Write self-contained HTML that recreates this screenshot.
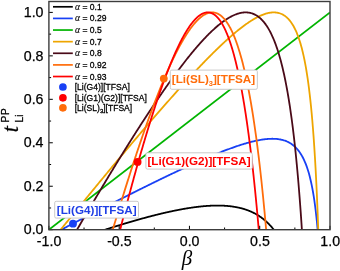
<!DOCTYPE html>
<html><head><meta charset="utf-8"><title>t Li PP vs beta</title>
<style>
html,body{margin:0;padding:0;background:#fff;}
svg{display:block;font-family:"Liberation Sans",Arial,sans-serif;}
.tk{font-size:14.2px;fill:#000;stroke:#000;stroke-width:0.25px;}
.lg{font-size:8.55px;fill:#000;stroke:#000;stroke-width:0.28px;}
.al{font-family:"Liberation Serif","DejaVu Serif",serif;font-style:italic;font-size:9.6px;stroke-width:0.1px;}
.an{font-size:11.7px;font-weight:bold;}
.ax{font-family:"Liberation Serif","DejaVu Serif",serif;font-style:italic;}
</style></head><body>
<svg width="340" height="271" viewBox="0 0 340 271">
<rect width="340" height="271" fill="#fff"/>
<defs><clipPath id="cp"><rect x="48.9" y="1.5" width="281.1" height="228.2"/></clipPath></defs>
<g clip-path="url(#cp)" fill="none" stroke-width="1.8" stroke-linejoin="round">
<path d="M102.31,230.61 L102.74,230.47 L103.17,230.33 L103.60,230.19 L104.03,230.05 L104.46,229.91 L104.90,229.77 L105.33,229.63 L105.76,229.49 L106.19,229.36 L106.62,229.22 L107.05,229.08 L107.48,228.94 L107.91,228.80 L108.35,228.67 L108.78,228.53 L109.21,228.39 L109.64,228.25 L110.07,228.12 L110.50,227.98 L110.93,227.84 L111.36,227.71 L111.79,227.57 L112.23,227.44 L112.66,227.30 L113.09,227.16 L113.52,227.03 L113.95,226.89 L114.38,226.76 L114.81,226.62 L115.24,226.49 L115.67,226.36 L116.11,226.22 L116.54,226.09 L116.97,225.95 L117.40,225.82 L117.83,225.69 L118.26,225.55 L118.69,225.42 L119.12,225.29 L119.56,225.16 L119.99,225.02 L120.42,224.89 L120.85,224.76 L121.28,224.63 L121.71,224.50 L122.14,224.37 L122.57,224.24 L123.00,224.11 L123.44,223.97 L123.87,223.84 L124.30,223.71 L124.73,223.58 L125.16,223.46 L125.59,223.33 L126.02,223.20 L126.45,223.07 L126.89,222.94 L127.32,222.81 L127.75,222.68 L128.18,222.56 L128.61,222.43 L129.04,222.30 L129.47,222.17 L129.90,222.05 L130.33,221.92 L130.77,221.79 L131.20,221.67 L131.63,221.54 L132.06,221.42 L132.49,221.29 L132.92,221.17 L133.35,221.04 L133.78,220.92 L134.21,220.79 L134.65,220.67 L135.08,220.55 L135.51,220.42 L135.94,220.30 L136.37,220.18 L136.80,220.05 L137.23,219.93 L137.66,219.81 L138.10,219.69 L138.53,219.57 L138.96,219.44 L139.39,219.32 L139.82,219.20 L140.25,219.08 L140.68,218.96 L141.11,218.84 L141.54,218.72 L141.98,218.60 L142.41,218.49 L142.84,218.37 L143.27,218.25 L143.70,218.13 L144.13,218.01 L144.56,217.90 L144.99,217.78 L145.43,217.66 L145.86,217.55 L146.29,217.43 L146.72,217.31 L147.15,217.20 L147.58,217.08 L148.01,216.97 L148.44,216.86 L148.87,216.74 L149.31,216.63 L149.74,216.51 L150.17,216.40 L150.60,216.29 L151.03,216.18 L151.46,216.06 L151.89,215.95 L152.32,215.84 L152.75,215.73 L153.19,215.62 L153.62,215.51 L154.05,215.40 L154.48,215.29 L154.91,215.18 L155.34,215.07 L155.77,214.97 L156.20,214.86 L156.64,214.75 L157.07,214.64 L157.50,214.54 L157.93,214.43 L158.36,214.32 L158.79,214.22 L159.22,214.11 L159.65,214.01 L160.08,213.91 L160.52,213.80 L160.95,213.70 L161.38,213.59 L161.81,213.49 L162.24,213.39 L162.67,213.29 L163.10,213.19 L163.53,213.09 L163.97,212.99 L164.40,212.89 L164.83,212.79 L165.26,212.69 L165.69,212.59 L166.12,212.49 L166.55,212.39 L166.98,212.29 L167.41,212.20 L167.85,212.10 L168.28,212.01 L168.71,211.91 L169.14,211.82 L169.57,211.72 L170.00,211.63 L170.43,211.53 L170.86,211.44 L171.29,211.35 L171.73,211.26 L172.16,211.16 L172.59,211.07 L173.02,210.98 L173.45,210.89 L173.88,210.80 L174.31,210.71 L174.74,210.63 L175.18,210.54 L175.61,210.45 L176.04,210.36 L176.47,210.28 L176.90,210.19 L177.33,210.11 L177.76,210.02 L178.19,209.94 L178.62,209.86 L179.06,209.77 L179.49,209.69 L179.92,209.61 L180.35,209.53 L180.78,209.45 L181.21,209.37 L181.64,209.29 L182.07,209.21 L182.50,209.13 L182.94,209.06 L183.37,208.98 L183.80,208.90 L184.23,208.83 L184.66,208.75 L185.09,208.68 L185.52,208.61 L185.95,208.53 L186.39,208.46 L186.82,208.39 L187.25,208.32 L187.68,208.25 L188.11,208.18 L188.54,208.11 L188.97,208.04 L189.40,207.98 L189.83,207.91 L190.27,207.85 L190.70,207.78 L191.13,207.72 L191.56,207.65 L191.99,207.59 L192.42,207.53 L192.85,207.47 L193.28,207.41 L193.72,207.35 L194.15,207.29 L194.58,207.23 L195.01,207.17 L195.44,207.12 L195.87,207.06 L196.30,207.01 L196.73,206.95 L197.16,206.90 L197.60,206.85 L198.03,206.80 L198.46,206.75 L198.89,206.70 L199.32,206.65 L199.75,206.60 L200.18,206.55 L200.61,206.51 L201.04,206.46 L201.48,206.42 L201.91,206.38 L202.34,206.34 L202.77,206.29 L203.20,206.25 L203.63,206.21 L204.06,206.18 L204.49,206.14 L204.93,206.10 L205.36,206.07 L205.79,206.03 L206.22,206.00 L206.65,205.97 L207.08,205.94 L207.51,205.91 L207.94,205.88 L208.37,205.85 L208.81,205.83 L209.24,205.80 L209.67,205.78 L210.10,205.75 L210.53,205.73 L210.96,205.71 L211.39,205.69 L211.82,205.68 L212.26,205.66 L212.69,205.64 L213.12,205.63 L213.55,205.61 L213.98,205.60 L214.41,205.59 L214.84,205.58 L215.27,205.58 L215.70,205.57 L216.14,205.56 L216.57,205.56 L217.00,205.56 L217.43,205.56 L217.86,205.56 L218.29,205.56 L218.72,205.56 L219.15,205.57 L219.58,205.57 L220.02,205.58 L220.45,205.59 L220.88,205.60 L221.31,205.61 L221.74,205.62 L222.17,205.64 L222.60,205.66 L223.03,205.68 L223.47,205.70 L223.90,205.72 L224.33,205.74 L224.76,205.77 L225.19,205.79 L225.62,205.82 L226.05,205.85 L226.48,205.89 L226.91,205.92 L227.35,205.96 L227.78,205.99 L228.21,206.03 L228.64,206.08 L229.07,206.12 L229.50,206.16 L229.93,206.21 L230.36,206.26 L230.79,206.31 L231.23,206.37 L231.66,206.42 L232.09,206.48 L232.52,206.54 L232.95,206.60 L233.38,206.67 L233.81,206.74 L234.24,206.80 L234.68,206.88 L235.11,206.95 L235.54,207.02 L235.97,207.10 L236.40,207.18 L236.83,207.27 L237.26,207.35 L237.69,207.44 L238.12,207.53 L238.56,207.63 L238.99,207.72 L239.42,207.82 L239.85,207.92 L240.28,208.03 L240.71,208.13 L241.14,208.24 L241.57,208.36 L242.01,208.47 L242.44,208.59 L242.87,208.71 L243.30,208.84 L243.73,208.96 L244.16,209.10 L244.59,209.23 L245.02,209.37 L245.45,209.51 L245.89,209.65 L246.32,209.80 L246.75,209.95 L247.18,210.10 L247.61,210.26 L248.04,210.42 L248.47,210.59 L248.90,210.76 L249.33,210.93 L249.77,211.11 L250.20,211.29 L250.63,211.47 L251.06,211.66 L251.49,211.85 L251.92,212.05 L252.35,212.25 L252.78,212.46 L253.22,212.67 L253.65,212.88 L254.08,213.10 L254.51,213.32 L254.94,213.55 L255.37,213.78 L255.80,214.02 L256.23,214.26 L256.66,214.51 L257.10,214.76 L257.53,215.02 L257.96,215.28 L258.39,215.55 L258.82,215.83 L259.25,216.11 L259.68,216.39 L260.11,216.68 L260.55,216.98 L260.98,217.28 L261.41,217.59 L261.84,217.91 L262.27,218.23 L262.70,218.56 L263.13,218.89 L263.56,219.24 L263.99,219.58 L264.43,219.94 L264.86,220.30 L265.29,220.67 L265.72,221.05 L266.15,221.44 L266.58,221.83 L267.01,222.23 L267.44,222.64 L267.87,223.06 L268.31,223.48 L268.74,223.92 L269.17,224.36 L269.60,224.81 L270.03,225.27 L270.46,225.74 L270.89,226.22 L271.32,226.71 L271.76,227.21 L272.19,227.72 L272.62,228.24 L273.05,228.77 L273.48,229.32 L273.91,229.87 L274.34,230.43" stroke="#000000"/>
<path d="M58.45,231.17 L59.10,230.83 L59.75,230.49 L60.40,230.15 L61.05,229.81 L61.70,229.47 L62.35,229.13 L63.00,228.79 L63.65,228.45 L64.30,228.11 L64.96,227.77 L65.61,227.43 L66.26,227.09 L66.91,226.75 L67.56,226.41 L68.21,226.07 L68.86,225.73 L69.51,225.39 L70.16,225.05 L70.81,224.71 L71.47,224.37 L72.12,224.03 L72.77,223.69 L73.42,223.35 L74.07,223.01 L74.72,222.68 L75.37,222.34 L76.02,222.00 L76.67,221.66 L77.33,221.32 L77.98,220.98 L78.63,220.64 L79.28,220.31 L79.93,219.97 L80.58,219.63 L81.23,219.29 L81.88,218.95 L82.53,218.62 L83.18,218.28 L83.84,217.94 L84.49,217.61 L85.14,217.27 L85.79,216.93 L86.44,216.59 L87.09,216.26 L87.74,215.92 L88.39,215.58 L89.04,215.25 L89.69,214.91 L90.35,214.57 L91.00,214.24 L91.65,213.90 L92.30,213.57 L92.95,213.23 L93.60,212.89 L94.25,212.56 L94.90,212.22 L95.55,211.89 L96.21,211.55 L96.86,211.22 L97.51,210.88 L98.16,210.55 L98.81,210.21 L99.46,209.88 L100.11,209.54 L100.76,209.21 L101.41,208.87 L102.06,208.54 L102.72,208.21 L103.37,207.87 L104.02,207.54 L104.67,207.20 L105.32,206.87 L105.97,206.54 L106.62,206.20 L107.27,205.87 L107.92,205.54 L108.57,205.21 L109.23,204.87 L109.88,204.54 L110.53,204.21 L111.18,203.88 L111.83,203.54 L112.48,203.21 L113.13,202.88 L113.78,202.55 L114.43,202.22 L115.08,201.89 L115.74,201.55 L116.39,201.22 L117.04,200.89 L117.69,200.56 L118.34,200.23 L118.99,199.90 L119.64,199.57 L120.29,199.24 L120.94,198.91 L121.60,198.58 L122.25,198.25 L122.90,197.92 L123.55,197.59 L124.20,197.26 L124.85,196.93 L125.50,196.61 L126.15,196.28 L126.80,195.95 L127.45,195.62 L128.11,195.29 L128.76,194.97 L129.41,194.64 L130.06,194.31 L130.71,193.98 L131.36,193.66 L132.01,193.33 L132.66,193.00 L133.31,192.68 L133.96,192.35 L134.62,192.02 L135.27,191.70 L135.92,191.37 L136.57,191.05 L137.22,190.72 L137.87,190.40 L138.52,190.07 L139.17,189.75 L139.82,189.42 L140.47,189.10 L141.13,188.78 L141.78,188.45 L142.43,188.13 L143.08,187.81 L143.73,187.48 L144.38,187.16 L145.03,186.84 L145.68,186.52 L146.33,186.19 L146.99,185.87 L147.64,185.55 L148.29,185.23 L148.94,184.91 L149.59,184.59 L150.24,184.27 L150.89,183.95 L151.54,183.63 L152.19,183.31 L152.84,182.99 L153.50,182.67 L154.15,182.35 L154.80,182.03 L155.45,181.71 L156.10,181.40 L156.75,181.08 L157.40,180.76 L158.05,180.44 L158.70,180.13 L159.35,179.81 L160.01,179.50 L160.66,179.18 L161.31,178.86 L161.96,178.55 L162.61,178.23 L163.26,177.92 L163.91,177.61 L164.56,177.29 L165.21,176.98 L165.87,176.67 L166.52,176.35 L167.17,176.04 L167.82,175.73 L168.47,175.42 L169.12,175.11 L169.77,174.79 L170.42,174.48 L171.07,174.17 L171.72,173.86 L172.38,173.55 L173.03,173.25 L173.68,172.94 L174.33,172.63 L174.98,172.32 L175.63,172.01 L176.28,171.71 L176.93,171.40 L177.58,171.09 L178.23,170.79 L178.89,170.48 L179.54,170.18 L180.19,169.87 L180.84,169.57 L181.49,169.27 L182.14,168.96 L182.79,168.66 L183.44,168.36 L184.09,168.06 L184.74,167.76 L185.40,167.46 L186.05,167.16 L186.70,166.86 L187.35,166.56 L188.00,166.26 L188.65,165.96 L189.30,165.66 L189.95,165.37 L190.60,165.07 L191.26,164.78 L191.91,164.48 L192.56,164.19 L193.21,163.89 L193.86,163.60 L194.51,163.31 L195.16,163.01 L195.81,162.72 L196.46,162.43 L197.11,162.14 L197.77,161.85 L198.42,161.56 L199.07,161.28 L199.72,160.99 L200.37,160.70 L201.02,160.41 L201.67,160.13 L202.32,159.84 L202.97,159.56 L203.62,159.28 L204.28,159.00 L204.93,158.71 L205.58,158.43 L206.23,158.15 L206.88,157.87 L207.53,157.60 L208.18,157.32 L208.83,157.04 L209.48,156.77 L210.14,156.49 L210.79,156.22 L211.44,155.94 L212.09,155.67 L212.74,155.40 L213.39,155.13 L214.04,154.86 L214.69,154.59 L215.34,154.33 L215.99,154.06 L216.65,153.79 L217.30,153.53 L217.95,153.27 L218.60,153.01 L219.25,152.74 L219.90,152.48 L220.55,152.23 L221.20,151.97 L221.85,151.71 L222.50,151.46 L223.16,151.20 L223.81,150.95 L224.46,150.70 L225.11,150.45 L225.76,150.20 L226.41,149.95 L227.06,149.71 L227.71,149.46 L228.36,149.22 L229.01,148.98 L229.67,148.74 L230.32,148.50 L230.97,148.26 L231.62,148.03 L232.27,147.80 L232.92,147.56 L233.57,147.33 L234.22,147.10 L234.87,146.88 L235.53,146.65 L236.18,146.43 L236.83,146.21 L237.48,145.99 L238.13,145.77 L238.78,145.56 L239.43,145.34 L240.08,145.13 L240.73,144.92 L241.38,144.71 L242.04,144.51 L242.69,144.31 L243.34,144.11 L243.99,143.91 L244.64,143.71 L245.29,143.52 L245.94,143.33 L246.59,143.14 L247.24,142.96 L247.89,142.77 L248.55,142.59 L249.20,142.42 L249.85,142.24 L250.50,142.07 L251.15,141.91 L251.80,141.74 L252.45,141.58 L253.10,141.42 L253.75,141.27 L254.41,141.11 L255.06,140.97 L255.71,140.82 L256.36,140.68 L257.01,140.55 L257.66,140.41 L258.31,140.29 L258.96,140.16 L259.61,140.04 L260.26,139.93 L260.92,139.82 L261.57,139.71 L262.22,139.61 L262.87,139.51 L263.52,139.42 L264.17,139.33 L264.82,139.25 L265.47,139.18 L266.12,139.11 L266.77,139.04 L267.43,138.99 L268.08,138.94 L268.73,138.89 L269.38,138.85 L270.03,138.82 L270.68,138.80 L271.33,138.78 L271.98,138.77 L272.63,138.77 L273.28,138.78 L273.94,138.80 L274.59,138.82 L275.24,138.86 L275.89,138.90 L276.54,138.95 L277.19,139.01 L277.84,139.09 L278.49,139.17 L279.14,139.27 L279.80,139.37 L280.45,139.49 L281.10,139.63 L281.75,139.77 L282.40,139.93 L283.05,140.10 L283.70,140.29 L284.35,140.50 L285.00,140.72 L285.65,140.95 L286.31,141.21 L286.96,141.48 L287.61,141.77 L288.26,142.09 L288.91,142.42 L289.56,142.78 L290.21,143.16 L290.86,143.56 L291.51,143.99 L292.16,144.45 L292.82,144.93 L293.47,145.45 L294.12,146.00 L294.77,146.58 L295.42,147.19 L296.07,147.85 L296.72,148.54 L297.37,149.27 L298.02,150.05 L298.67,150.88 L299.33,151.76 L299.98,152.69 L300.63,153.67 L301.28,154.72 L301.93,155.83 L302.58,157.02 L303.23,158.28 L303.88,159.61 L304.53,161.04 L305.19,162.56 L305.84,164.18 L306.49,165.91 L307.14,167.75 L307.79,169.73 L308.44,171.85 L309.09,174.12 L309.74,176.56 L310.39,179.19 L311.04,182.02 L311.70,185.08 L312.35,188.39 L313.00,191.99 L313.65,195.89 L314.30,200.15 L314.95,204.81 L315.60,209.92 L316.25,215.56 L316.90,221.78 L317.55,228.70 L318.21,236.42" stroke="#1840f5"/>
<path d="M48.90,229.70 L330.00,12.40" stroke="#00b400"/>
<path d="M57.82,233.17 L58.48,232.36 L59.13,231.55 L59.79,230.75 L60.44,229.94 L61.09,229.13 L61.75,228.33 L62.40,227.52 L63.06,226.72 L63.71,225.91 L64.36,225.11 L65.02,224.30 L65.67,223.50 L66.33,222.69 L66.98,221.89 L67.64,221.08 L68.29,220.28 L68.94,219.48 L69.60,218.67 L70.25,217.87 L70.91,217.07 L71.56,216.26 L72.21,215.46 L72.87,214.66 L73.52,213.85 L74.18,213.05 L74.83,212.25 L75.48,211.45 L76.14,210.65 L76.79,209.85 L77.45,209.04 L78.10,208.24 L78.76,207.44 L79.41,206.64 L80.06,205.84 L80.72,205.04 L81.37,204.24 L82.03,203.44 L82.68,202.64 L83.33,201.84 L83.99,201.04 L84.64,200.25 L85.30,199.45 L85.95,198.65 L86.61,197.85 L87.26,197.05 L87.91,196.26 L88.57,195.46 L89.22,194.66 L89.88,193.87 L90.53,193.07 L91.18,192.27 L91.84,191.48 L92.49,190.68 L93.15,189.89 L93.80,189.09 L94.46,188.30 L95.11,187.50 L95.76,186.71 L96.42,185.91 L97.07,185.12 L97.73,184.33 L98.38,183.53 L99.03,182.74 L99.69,181.95 L100.34,181.15 L101.00,180.36 L101.65,179.57 L102.30,178.78 L102.96,177.99 L103.61,177.20 L104.27,176.41 L104.92,175.61 L105.58,174.82 L106.23,174.03 L106.88,173.25 L107.54,172.46 L108.19,171.67 L108.85,170.88 L109.50,170.09 L110.15,169.30 L110.81,168.52 L111.46,167.73 L112.12,166.94 L112.77,166.15 L113.43,165.37 L114.08,164.58 L114.73,163.80 L115.39,163.01 L116.04,162.23 L116.70,161.44 L117.35,160.66 L118.00,159.88 L118.66,159.09 L119.31,158.31 L119.97,157.53 L120.62,156.74 L121.28,155.96 L121.93,155.18 L122.58,154.40 L123.24,153.62 L123.89,152.84 L124.55,152.06 L125.20,151.28 L125.85,150.50 L126.51,149.72 L127.16,148.94 L127.82,148.17 L128.47,147.39 L129.13,146.61 L129.78,145.83 L130.43,145.06 L131.09,144.28 L131.74,143.51 L132.40,142.73 L133.05,141.96 L133.70,141.18 L134.36,140.41 L135.01,139.64 L135.67,138.87 L136.32,138.09 L136.97,137.32 L137.63,136.55 L138.28,135.78 L138.94,135.01 L139.59,134.24 L140.25,133.47 L140.90,132.70 L141.55,131.93 L142.21,131.17 L142.86,130.40 L143.52,129.63 L144.17,128.87 L144.82,128.10 L145.48,127.34 L146.13,126.57 L146.79,125.81 L147.44,125.05 L148.10,124.28 L148.75,123.52 L149.40,122.76 L150.06,122.00 L150.71,121.24 L151.37,120.48 L152.02,119.72 L152.67,118.96 L153.33,118.20 L153.98,117.45 L154.64,116.69 L155.29,115.94 L155.95,115.18 L156.60,114.43 L157.25,113.67 L157.91,112.92 L158.56,112.17 L159.22,111.41 L159.87,110.66 L160.52,109.91 L161.18,109.16 L161.83,108.41 L162.49,107.67 L163.14,106.92 L163.79,106.17 L164.45,105.43 L165.10,104.68 L165.76,103.94 L166.41,103.19 L167.07,102.45 L167.72,101.71 L168.37,100.97 L169.03,100.23 L169.68,99.49 L170.34,98.75 L170.99,98.01 L171.64,97.27 L172.30,96.54 L172.95,95.80 L173.61,95.07 L174.26,94.33 L174.92,93.60 L175.57,92.87 L176.22,92.14 L176.88,91.41 L177.53,90.68 L178.19,89.95 L178.84,89.23 L179.49,88.50 L180.15,87.78 L180.80,87.05 L181.46,86.33 L182.11,85.61 L182.77,84.89 L183.42,84.17 L184.07,83.45 L184.73,82.73 L185.38,82.02 L186.04,81.30 L186.69,80.59 L187.34,79.88 L188.00,79.16 L188.65,78.45 L189.31,77.74 L189.96,77.04 L190.62,76.33 L191.27,75.63 L191.92,74.92 L192.58,74.22 L193.23,73.52 L193.89,72.82 L194.54,72.12 L195.19,71.42 L195.85,70.73 L196.50,70.03 L197.16,69.34 L197.81,68.65 L198.46,67.96 L199.12,67.27 L199.77,66.59 L200.43,65.90 L201.08,65.22 L201.74,64.54 L202.39,63.86 L203.04,63.18 L203.70,62.50 L204.35,61.83 L205.01,61.15 L205.66,60.48 L206.31,59.81 L206.97,59.14 L207.62,58.48 L208.28,57.81 L208.93,57.15 L209.59,56.49 L210.24,55.83 L210.89,55.18 L211.55,54.52 L212.20,53.87 L212.86,53.22 L213.51,52.58 L214.16,51.93 L214.82,51.29 L215.47,50.65 L216.13,50.01 L216.78,49.37 L217.44,48.74 L218.09,48.11 L218.74,47.48 L219.40,46.85 L220.05,46.23 L220.71,45.61 L221.36,44.99 L222.01,44.37 L222.67,43.76 L223.32,43.15 L223.98,42.54 L224.63,41.94 L225.29,41.34 L225.94,40.74 L226.59,40.14 L227.25,39.55 L227.90,38.96 L228.56,38.38 L229.21,37.79 L229.86,37.21 L230.52,36.64 L231.17,36.07 L231.83,35.50 L232.48,34.93 L233.13,34.37 L233.79,33.82 L234.44,33.26 L235.10,32.71 L235.75,32.17 L236.41,31.63 L237.06,31.09 L237.71,30.56 L238.37,30.03 L239.02,29.51 L239.68,28.99 L240.33,28.48 L240.98,27.97 L241.64,27.46 L242.29,26.96 L242.95,26.47 L243.60,25.98 L244.26,25.50 L244.91,25.02 L245.56,24.55 L246.22,24.08 L246.87,23.62 L247.53,23.17 L248.18,22.72 L248.83,22.28 L249.49,21.84 L250.14,21.41 L250.80,20.99 L251.45,20.58 L252.11,20.17 L252.76,19.77 L253.41,19.38 L254.07,18.99 L254.72,18.62 L255.38,18.25 L256.03,17.89 L256.68,17.54 L257.34,17.19 L257.99,16.86 L258.65,16.54 L259.30,16.22 L259.95,15.92 L260.61,15.62 L261.26,15.34 L261.92,15.06 L262.57,14.80 L263.23,14.55 L263.88,14.31 L264.53,14.08 L265.19,13.87 L265.84,13.67 L266.50,13.48 L267.15,13.30 L267.80,13.14 L268.46,12.99 L269.11,12.86 L269.77,12.74 L270.42,12.64 L271.08,12.56 L271.73,12.49 L272.38,12.44 L273.04,12.41 L273.69,12.40 L274.35,12.41 L275.00,12.43 L275.65,12.48 L276.31,12.55 L276.96,12.65 L277.62,12.76 L278.27,12.90 L278.93,13.07 L279.58,13.26 L280.23,13.48 L280.89,13.73 L281.54,14.00 L282.20,14.31 L282.85,14.65 L283.50,15.02 L284.16,15.43 L284.81,15.87 L285.47,16.35 L286.12,16.87 L286.78,17.43 L287.43,18.04 L288.08,18.69 L288.74,19.39 L289.39,20.13 L290.05,20.93 L290.70,21.79 L291.35,22.70 L292.01,23.67 L292.66,24.70 L293.32,25.81 L293.97,26.98 L294.62,28.23 L295.28,29.55 L295.93,30.96 L296.59,32.46 L297.24,34.05 L297.90,35.74 L298.55,37.53 L299.20,39.44 L299.86,41.47 L300.51,43.62 L301.17,45.91 L301.82,48.35 L302.47,50.94 L303.13,53.70 L303.78,56.64 L304.44,59.77 L305.09,63.11 L305.75,66.68 L306.40,70.49 L307.05,74.56 L307.71,78.93 L308.36,83.61 L309.02,88.63 L309.67,94.03 L310.32,99.85 L310.98,106.13 L311.63,112.91 L312.29,120.25 L312.94,128.23 L313.60,136.90 L314.25,146.37 L314.90,156.73 L315.56,168.10 L316.21,180.64 L316.87,194.50 L317.52,209.91 L318.17,227.12 L318.83,246.44" stroke="#eea500"/>
<path d="M74.20,234.54 L74.77,233.55 L75.34,232.57 L75.92,231.58 L76.49,230.60 L77.06,229.62 L77.63,228.63 L78.20,227.65 L78.78,226.67 L79.35,225.69 L79.92,224.71 L80.49,223.73 L81.06,222.75 L81.64,221.77 L82.21,220.79 L82.78,219.82 L83.35,218.84 L83.92,217.86 L84.50,216.89 L85.07,215.91 L85.64,214.94 L86.21,213.97 L86.78,212.99 L87.36,212.02 L87.93,211.05 L88.50,210.08 L89.07,209.11 L89.64,208.14 L90.22,207.17 L90.79,206.20 L91.36,205.23 L91.93,204.27 L92.51,203.30 L93.08,202.33 L93.65,201.37 L94.22,200.40 L94.79,199.44 L95.37,198.48 L95.94,197.51 L96.51,196.55 L97.08,195.59 L97.65,194.63 L98.23,193.67 L98.80,192.71 L99.37,191.75 L99.94,190.80 L100.51,189.84 L101.09,188.88 L101.66,187.93 L102.23,186.98 L102.80,186.02 L103.37,185.07 L103.95,184.12 L104.52,183.17 L105.09,182.21 L105.66,181.27 L106.23,180.32 L106.81,179.37 L107.38,178.42 L107.95,177.47 L108.52,176.53 L109.09,175.58 L109.67,174.64 L110.24,173.70 L110.81,172.75 L111.38,171.81 L111.96,170.87 L112.53,169.93 L113.10,168.99 L113.67,168.06 L114.24,167.12 L114.82,166.18 L115.39,165.25 L115.96,164.31 L116.53,163.38 L117.10,162.45 L117.68,161.51 L118.25,160.58 L118.82,159.65 L119.39,158.73 L119.96,157.80 L120.54,156.87 L121.11,155.94 L121.68,155.02 L122.25,154.10 L122.82,153.17 L123.40,152.25 L123.97,151.33 L124.54,150.41 L125.11,149.49 L125.68,148.57 L126.26,147.66 L126.83,146.74 L127.40,145.83 L127.97,144.91 L128.55,144.00 L129.12,143.09 L129.69,142.18 L130.26,141.27 L130.83,140.36 L131.41,139.46 L131.98,138.55 L132.55,137.65 L133.12,136.74 L133.69,135.84 L134.27,134.94 L134.84,134.04 L135.41,133.14 L135.98,132.24 L136.55,131.35 L137.13,130.45 L137.70,129.56 L138.27,128.67 L138.84,127.78 L139.41,126.89 L139.99,126.00 L140.56,125.11 L141.13,124.22 L141.70,123.34 L142.27,122.46 L142.85,121.58 L143.42,120.70 L143.99,119.82 L144.56,118.94 L145.13,118.06 L145.71,117.19 L146.28,116.31 L146.85,115.44 L147.42,114.57 L148.00,113.70 L148.57,112.84 L149.14,111.97 L149.71,111.10 L150.28,110.24 L150.86,109.38 L151.43,108.52 L152.00,107.66 L152.57,106.81 L153.14,105.95 L153.72,105.10 L154.29,104.25 L154.86,103.40 L155.43,102.55 L156.00,101.70 L156.58,100.86 L157.15,100.01 L157.72,99.17 L158.29,98.33 L158.86,97.49 L159.44,96.66 L160.01,95.82 L160.58,94.99 L161.15,94.16 L161.72,93.33 L162.30,92.50 L162.87,91.68 L163.44,90.86 L164.01,90.03 L164.58,89.21 L165.16,88.40 L165.73,87.58 L166.30,86.77 L166.87,85.96 L167.45,85.15 L168.02,84.34 L168.59,83.54 L169.16,82.73 L169.73,81.93 L170.31,81.14 L170.88,80.34 L171.45,79.55 L172.02,78.75 L172.59,77.96 L173.17,77.18 L173.74,76.39 L174.31,75.61 L174.88,74.83 L175.45,74.05 L176.03,73.28 L176.60,72.50 L177.17,71.73 L177.74,70.97 L178.31,70.20 L178.89,69.44 L179.46,68.68 L180.03,67.92 L180.60,67.17 L181.17,66.42 L181.75,65.67 L182.32,64.92 L182.89,64.18 L183.46,63.44 L184.04,62.70 L184.61,61.96 L185.18,61.23 L185.75,60.50 L186.32,59.77 L186.90,59.05 L187.47,58.33 L188.04,57.61 L188.61,56.90 L189.18,56.19 L189.76,55.48 L190.33,54.78 L190.90,54.08 L191.47,53.38 L192.04,52.69 L192.62,51.99 L193.19,51.31 L193.76,50.62 L194.33,49.94 L194.90,49.27 L195.48,48.59 L196.05,47.92 L196.62,47.26 L197.19,46.60 L197.76,45.94 L198.34,45.29 L198.91,44.64 L199.48,43.99 L200.05,43.35 L200.62,42.71 L201.20,42.08 L201.77,41.45 L202.34,40.82 L202.91,40.20 L203.49,39.58 L204.06,38.97 L204.63,38.36 L205.20,37.76 L205.77,37.16 L206.35,36.57 L206.92,35.98 L207.49,35.40 L208.06,34.82 L208.63,34.24 L209.21,33.67 L209.78,33.11 L210.35,32.55 L210.92,32.00 L211.49,31.45 L212.07,30.90 L212.64,30.37 L213.21,29.84 L213.78,29.31 L214.35,28.79 L214.93,28.27 L215.50,27.76 L216.07,27.26 L216.64,26.76 L217.21,26.27 L217.79,25.79 L218.36,25.31 L218.93,24.84 L219.50,24.38 L220.08,23.92 L220.65,23.47 L221.22,23.02 L221.79,22.58 L222.36,22.15 L222.94,21.73 L223.51,21.31 L224.08,20.91 L224.65,20.50 L225.22,20.11 L225.80,19.73 L226.37,19.35 L226.94,18.98 L227.51,18.62 L228.08,18.26 L228.66,17.92 L229.23,17.58 L229.80,17.26 L230.37,16.94 L230.94,16.63 L231.52,16.33 L232.09,16.04 L232.66,15.76 L233.23,15.49 L233.80,15.23 L234.38,14.98 L234.95,14.74 L235.52,14.51 L236.09,14.29 L236.66,14.08 L237.24,13.88 L237.81,13.70 L238.38,13.52 L238.95,13.36 L239.53,13.21 L240.10,13.07 L240.67,12.94 L241.24,12.83 L241.81,12.73 L242.39,12.64 L242.96,12.56 L243.53,12.50 L244.10,12.46 L244.67,12.42 L245.25,12.40 L245.82,12.40 L246.39,12.41 L246.96,12.44 L247.53,12.48 L248.11,12.54 L248.68,12.62 L249.25,12.71 L249.82,12.82 L250.39,12.94 L250.97,13.09 L251.54,13.25 L252.11,13.43 L252.68,13.63 L253.25,13.85 L253.83,14.09 L254.40,14.35 L254.97,14.63 L255.54,14.93 L256.12,15.25 L256.69,15.60 L257.26,15.97 L257.83,16.36 L258.40,16.78 L258.98,17.22 L259.55,17.68 L260.12,18.17 L260.69,18.69 L261.26,19.24 L261.84,19.81 L262.41,20.41 L262.98,21.04 L263.55,21.70 L264.12,22.39 L264.70,23.11 L265.27,23.87 L265.84,24.65 L266.41,25.48 L266.98,26.33 L267.56,27.23 L268.13,28.15 L268.70,29.12 L269.27,30.13 L269.84,31.18 L270.42,32.26 L270.99,33.39 L271.56,34.57 L272.13,35.79 L272.70,37.05 L273.28,38.37 L273.85,39.73 L274.42,41.14 L274.99,42.61 L275.57,44.13 L276.14,45.71 L276.71,47.34 L277.28,49.03 L277.85,50.79 L278.43,52.60 L279.00,54.49 L279.57,56.44 L280.14,58.46 L280.71,60.55 L281.29,62.72 L281.86,64.97 L282.43,67.30 L283.00,69.71 L283.57,72.21 L284.15,74.79 L284.72,77.48 L285.29,80.25 L285.86,83.13 L286.43,86.12 L287.01,89.21 L287.58,92.41 L288.15,95.74 L288.72,99.18 L289.29,102.76 L289.87,106.46 L290.44,110.31 L291.01,114.30 L291.58,118.44 L292.16,122.75 L292.73,127.21 L293.30,131.86 L293.87,136.68 L294.44,141.70 L295.02,146.91 L295.59,152.34 L296.16,157.98 L296.73,163.86 L297.30,169.98 L297.88,176.36 L298.45,183.01 L299.02,189.95 L299.59,197.19 L300.16,204.75 L300.74,212.65 L301.31,220.91 L301.88,229.55 L302.45,238.59" stroke="#4a0a18"/>
<path d="M109.95,239.22 L110.34,237.88 L110.73,236.55 L111.12,235.22 L111.52,233.89 L111.91,232.56 L112.30,231.23 L112.70,229.90 L113.09,228.58 L113.48,227.26 L113.87,225.94 L114.27,224.62 L114.66,223.31 L115.05,222.00 L115.45,220.69 L115.84,219.38 L116.23,218.07 L116.62,216.77 L117.02,215.46 L117.41,214.16 L117.80,212.86 L118.20,211.57 L118.59,210.27 L118.98,208.98 L119.37,207.69 L119.77,206.41 L120.16,205.12 L120.55,203.84 L120.95,202.56 L121.34,201.28 L121.73,200.00 L122.12,198.73 L122.52,197.46 L122.91,196.19 L123.30,194.92 L123.70,193.65 L124.09,192.39 L124.48,191.13 L124.87,189.87 L125.27,188.62 L125.66,187.37 L126.05,186.11 L126.45,184.87 L126.84,183.62 L127.23,182.38 L127.62,181.14 L128.02,179.90 L128.41,178.66 L128.80,177.43 L129.20,176.20 L129.59,174.97 L129.98,173.74 L130.38,172.52 L130.77,171.30 L131.16,170.08 L131.55,168.86 L131.95,167.65 L132.34,166.44 L132.73,165.23 L133.13,164.03 L133.52,162.83 L133.91,161.63 L134.30,160.43 L134.70,159.23 L135.09,158.04 L135.48,156.85 L135.88,155.67 L136.27,154.48 L136.66,153.30 L137.05,152.13 L137.45,150.95 L137.84,149.78 L138.23,148.61 L138.63,147.44 L139.02,146.28 L139.41,145.12 L139.80,143.96 L140.20,142.81 L140.59,141.66 L140.98,140.51 L141.38,139.36 L141.77,138.22 L142.16,137.08 L142.55,135.95 L142.95,134.81 L143.34,133.68 L143.73,132.56 L144.13,131.43 L144.52,130.31 L144.91,129.20 L145.30,128.08 L145.70,126.97 L146.09,125.86 L146.48,124.76 L146.88,123.66 L147.27,122.56 L147.66,121.47 L148.05,120.38 L148.45,119.29 L148.84,118.21 L149.23,117.12 L149.63,116.05 L150.02,114.97 L150.41,113.90 L150.81,112.84 L151.20,111.77 L151.59,110.71 L151.98,109.66 L152.38,108.61 L152.77,107.56 L153.16,106.51 L153.56,105.47 L153.95,104.43 L154.34,103.40 L154.73,102.37 L155.13,101.34 L155.52,100.32 L155.91,99.30 L156.31,98.29 L156.70,97.28 L157.09,96.27 L157.48,95.27 L157.88,94.27 L158.27,93.27 L158.66,92.28 L159.06,91.30 L159.45,90.31 L159.84,89.33 L160.23,88.36 L160.63,87.39 L161.02,86.42 L161.41,85.46 L161.81,84.50 L162.20,83.55 L162.59,82.60 L162.98,81.66 L163.38,80.72 L163.77,79.78 L164.16,78.85 L164.56,77.92 L164.95,77.00 L165.34,76.08 L165.73,75.17 L166.13,74.26 L166.52,73.36 L166.91,72.46 L167.31,71.56 L167.70,70.67 L168.09,69.79 L168.48,68.91 L168.88,68.03 L169.27,67.16 L169.66,66.30 L170.06,65.44 L170.45,64.58 L170.84,63.73 L171.24,62.88 L171.63,62.04 L172.02,61.21 L172.41,60.38 L172.81,59.55 L173.20,58.73 L173.59,57.92 L173.99,57.11 L174.38,56.31 L174.77,55.51 L175.16,54.72 L175.56,53.93 L175.95,53.15 L176.34,52.37 L176.74,51.60 L177.13,50.84 L177.52,50.08 L177.91,49.32 L178.31,48.58 L178.70,47.83 L179.09,47.10 L179.49,46.37 L179.88,45.65 L180.27,44.93 L180.66,44.22 L181.06,43.51 L181.45,42.81 L181.84,42.12 L182.24,41.43 L182.63,40.75 L183.02,40.08 L183.41,39.41 L183.81,38.75 L184.20,38.09 L184.59,37.45 L184.99,36.80 L185.38,36.17 L185.77,35.54 L186.16,34.92 L186.56,34.31 L186.95,33.70 L187.34,33.10 L187.74,32.51 L188.13,31.92 L188.52,31.34 L188.91,30.77 L189.31,30.20 L189.70,29.65 L190.09,29.10 L190.49,28.55 L190.88,28.02 L191.27,27.49 L191.67,26.97 L192.06,26.46 L192.45,25.96 L192.84,25.46 L193.24,24.97 L193.63,24.49 L194.02,24.02 L194.42,23.56 L194.81,23.10 L195.20,22.65 L195.59,22.21 L195.99,21.78 L196.38,21.36 L196.77,20.95 L197.17,20.54 L197.56,20.14 L197.95,19.76 L198.34,19.38 L198.74,19.01 L199.13,18.65 L199.52,18.30 L199.92,17.95 L200.31,17.62 L200.70,17.30 L201.09,16.98 L201.49,16.68 L201.88,16.38 L202.27,16.10 L202.67,15.82 L203.06,15.55 L203.45,15.30 L203.84,15.05 L204.24,14.82 L204.63,14.59 L205.02,14.38 L205.42,14.17 L205.81,13.98 L206.20,13.80 L206.59,13.62 L206.99,13.46 L207.38,13.31 L207.77,13.17 L208.17,13.04 L208.56,12.93 L208.95,12.82 L209.34,12.73 L209.74,12.64 L210.13,12.57 L210.52,12.51 L210.92,12.47 L211.31,12.43 L211.70,12.41 L212.10,12.40 L212.49,12.40 L212.88,12.42 L213.27,12.45 L213.67,12.49 L214.06,12.54 L214.45,12.61 L214.85,12.69 L215.24,12.78 L215.63,12.89 L216.02,13.01 L216.42,13.14 L216.81,13.29 L217.20,13.45 L217.60,13.63 L217.99,13.82 L218.38,14.02 L218.77,14.24 L219.17,14.48 L219.56,14.73 L219.95,14.99 L220.35,15.27 L220.74,15.57 L221.13,15.88 L221.52,16.21 L221.92,16.55 L222.31,16.91 L222.70,17.29 L223.10,17.68 L223.49,18.09 L223.88,18.52 L224.27,18.96 L224.67,19.42 L225.06,19.90 L225.45,20.39 L225.85,20.91 L226.24,21.44 L226.63,21.99 L227.02,22.56 L227.42,23.15 L227.81,23.75 L228.20,24.38 L228.60,25.02 L228.99,25.69 L229.38,26.37 L229.77,27.07 L230.17,27.80 L230.56,28.54 L230.95,29.31 L231.35,30.10 L231.74,30.90 L232.13,31.73 L232.53,32.59 L232.92,33.46 L233.31,34.36 L233.70,35.27 L234.10,36.21 L234.49,37.18 L234.88,38.17 L235.28,39.18 L235.67,40.22 L236.06,41.28 L236.45,42.36 L236.85,43.47 L237.24,44.60 L237.63,45.77 L238.03,46.95 L238.42,48.16 L238.81,49.40 L239.20,50.67 L239.60,51.96 L239.99,53.29 L240.38,54.64 L240.78,56.01 L241.17,57.42 L241.56,58.86 L241.95,60.32 L242.35,61.82 L242.74,63.34 L243.13,64.90 L243.53,66.48 L243.92,68.10 L244.31,69.76 L244.70,71.44 L245.10,73.16 L245.49,74.91 L245.88,76.69 L246.28,78.51 L246.67,80.36 L247.06,82.25 L247.45,84.17 L247.85,86.13 L248.24,88.13 L248.63,90.16 L249.03,92.24 L249.42,94.35 L249.81,96.50 L250.20,98.69 L250.60,100.92 L250.99,103.19 L251.38,105.50 L251.78,107.86 L252.17,110.25 L252.56,112.69 L252.96,115.18 L253.35,117.71 L253.74,120.28 L254.13,122.90 L254.53,125.57 L254.92,128.28 L255.31,131.05 L255.71,133.86 L256.10,136.72 L256.49,139.63 L256.88,142.60 L257.28,145.61 L257.67,148.68 L258.06,151.81 L258.46,154.99 L258.85,158.22 L259.24,161.51 L259.63,164.86 L260.03,168.27 L260.42,171.73 L260.81,175.26 L261.21,178.85 L261.60,182.50 L261.99,186.22 L262.38,190.00 L262.78,193.85 L263.17,197.76 L263.56,201.74 L263.96,205.80 L264.35,209.92 L264.74,214.12 L265.13,218.39 L265.53,222.73 L265.92,227.15 L266.31,231.65 L266.71,236.23" stroke="#ff6c0a"/>
<path d="M117.34,240.81 L117.70,239.40 L118.05,237.99 L118.41,236.58 L118.76,235.17 L119.12,233.76 L119.48,232.36 L119.83,230.96 L120.19,229.56 L120.54,228.16 L120.90,226.77 L121.25,225.38 L121.61,223.99 L121.97,222.61 L122.32,221.22 L122.68,219.84 L123.03,218.46 L123.39,217.09 L123.75,215.71 L124.10,214.34 L124.46,212.97 L124.81,211.61 L125.17,210.24 L125.52,208.88 L125.88,207.53 L126.24,206.17 L126.59,204.82 L126.95,203.47 L127.30,202.12 L127.66,200.78 L128.02,199.44 L128.37,198.10 L128.73,196.76 L129.08,195.43 L129.44,194.10 L129.79,192.77 L130.15,191.44 L130.51,190.12 L130.86,188.80 L131.22,187.48 L131.57,186.17 L131.93,184.86 L132.28,183.55 L132.64,182.25 L133.00,180.94 L133.35,179.65 L133.71,178.35 L134.06,177.06 L134.42,175.77 L134.78,174.48 L135.13,173.19 L135.49,171.91 L135.84,170.63 L136.20,169.36 L136.55,168.09 L136.91,166.82 L137.27,165.55 L137.62,164.29 L137.98,163.03 L138.33,161.77 L138.69,160.52 L139.05,159.27 L139.40,158.03 L139.76,156.78 L140.11,155.54 L140.47,154.30 L140.82,153.07 L141.18,151.84 L141.54,150.61 L141.89,149.39 L142.25,148.17 L142.60,146.95 L142.96,145.74 L143.32,144.53 L143.67,143.32 L144.03,142.12 L144.38,140.92 L144.74,139.73 L145.09,138.53 L145.45,137.35 L145.81,136.16 L146.16,134.98 L146.52,133.80 L146.87,132.63 L147.23,131.46 L147.58,130.29 L147.94,129.13 L148.30,127.97 L148.65,126.81 L149.01,125.66 L149.36,124.51 L149.72,123.37 L150.08,122.23 L150.43,121.09 L150.79,119.96 L151.14,118.83 L151.50,117.70 L151.85,116.58 L152.21,115.46 L152.57,114.35 L152.92,113.24 L153.28,112.14 L153.63,111.04 L153.99,109.94 L154.35,108.85 L154.70,107.76 L155.06,106.67 L155.41,105.59 L155.77,104.52 L156.12,103.45 L156.48,102.38 L156.84,101.32 L157.19,100.26 L157.55,99.20 L157.90,98.15 L158.26,97.11 L158.62,96.07 L158.97,95.03 L159.33,94.00 L159.68,92.97 L160.04,91.95 L160.39,90.93 L160.75,89.92 L161.11,88.91 L161.46,87.90 L161.82,86.90 L162.17,85.91 L162.53,84.92 L162.88,83.93 L163.24,82.95 L163.60,81.98 L163.95,81.01 L164.31,80.04 L164.66,79.08 L165.02,78.12 L165.38,77.17 L165.73,76.23 L166.09,75.28 L166.44,74.35 L166.80,73.42 L167.15,72.49 L167.51,71.57 L167.87,70.66 L168.22,69.75 L168.58,68.84 L168.93,67.94 L169.29,67.05 L169.65,66.16 L170.00,65.28 L170.36,64.40 L170.71,63.53 L171.07,62.66 L171.42,61.80 L171.78,60.95 L172.14,60.10 L172.49,59.26 L172.85,58.42 L173.20,57.59 L173.56,56.76 L173.92,55.94 L174.27,55.13 L174.63,54.32 L174.98,53.52 L175.34,52.72 L175.69,51.93 L176.05,51.14 L176.41,50.37 L176.76,49.60 L177.12,48.83 L177.47,48.07 L177.83,47.32 L178.18,46.57 L178.54,45.83 L178.90,45.10 L179.25,44.37 L179.61,43.65 L179.96,42.94 L180.32,42.23 L180.68,41.53 L181.03,40.84 L181.39,40.15 L181.74,39.47 L182.10,38.80 L182.45,38.13 L182.81,37.47 L183.17,36.82 L183.52,36.17 L183.88,35.54 L184.23,34.91 L184.59,34.28 L184.95,33.67 L185.30,33.06 L185.66,32.46 L186.01,31.86 L186.37,31.28 L186.72,30.70 L187.08,30.13 L187.44,29.56 L187.79,29.01 L188.15,28.46 L188.50,27.92 L188.86,27.39 L189.22,26.87 L189.57,26.35 L189.93,25.84 L190.28,25.34 L190.64,24.85 L190.99,24.37 L191.35,23.90 L191.71,23.43 L192.06,22.97 L192.42,22.52 L192.77,22.08 L193.13,21.65 L193.48,21.23 L193.84,20.81 L194.20,20.41 L194.55,20.01 L194.91,19.63 L195.26,19.25 L195.62,18.88 L195.98,18.52 L196.33,18.17 L196.69,17.83 L197.04,17.50 L197.40,17.18 L197.75,16.87 L198.11,16.56 L198.47,16.27 L198.82,15.99 L199.18,15.72 L199.53,15.46 L199.89,15.20 L200.25,14.96 L200.60,14.73 L200.96,14.51 L201.31,14.30 L201.67,14.10 L202.02,13.91 L202.38,13.73 L202.74,13.56 L203.09,13.40 L203.45,13.26 L203.80,13.12 L204.16,13.00 L204.52,12.89 L204.87,12.79 L205.23,12.70 L205.58,12.62 L205.94,12.55 L206.29,12.50 L206.65,12.46 L207.01,12.42 L207.36,12.41 L207.72,12.40 L208.07,12.41 L208.43,12.42 L208.78,12.46 L209.14,12.50 L209.50,12.56 L209.85,12.62 L210.21,12.71 L210.56,12.80 L210.92,12.91 L211.28,13.03 L211.63,13.17 L211.99,13.32 L212.34,13.48 L212.70,13.66 L213.05,13.85 L213.41,14.05 L213.77,14.27 L214.12,14.50 L214.48,14.75 L214.83,15.01 L215.19,15.29 L215.55,15.58 L215.90,15.89 L216.26,16.21 L216.61,16.55 L216.97,16.90 L217.32,17.27 L217.68,17.65 L218.04,18.05 L218.39,18.47 L218.75,18.90 L219.10,19.35 L219.46,19.81 L219.82,20.29 L220.17,20.79 L220.53,21.31 L220.88,21.84 L221.24,22.39 L221.59,22.96 L221.95,23.54 L222.31,24.14 L222.66,24.77 L223.02,25.40 L223.37,26.06 L223.73,26.74 L224.08,27.43 L224.44,28.15 L224.80,28.88 L225.15,29.63 L225.51,30.40 L225.86,31.20 L226.22,32.01 L226.58,32.84 L226.93,33.69 L227.29,34.56 L227.64,35.46 L228.00,36.37 L228.35,37.31 L228.71,38.26 L229.07,39.24 L229.42,40.24 L229.78,41.26 L230.13,42.31 L230.49,43.38 L230.85,44.47 L231.20,45.58 L231.56,46.72 L231.91,47.88 L232.27,49.06 L232.62,50.27 L232.98,51.50 L233.34,52.76 L233.69,54.04 L234.05,55.35 L234.40,56.68 L234.76,58.04 L235.12,59.43 L235.47,60.84 L235.83,62.28 L236.18,63.74 L236.54,65.23 L236.89,66.75 L237.25,68.30 L237.61,69.88 L237.96,71.48 L238.32,73.12 L238.67,74.78 L239.03,76.47 L239.38,78.19 L239.74,79.94 L240.10,81.73 L240.45,83.54 L240.81,85.39 L241.16,87.26 L241.52,89.17 L241.88,91.11 L242.23,93.09 L242.59,95.10 L242.94,97.14 L243.30,99.21 L243.65,101.32 L244.01,103.47 L244.37,105.65 L244.72,107.86 L245.08,110.12 L245.43,112.41 L245.79,114.73 L246.15,117.10 L246.50,119.50 L246.86,121.94 L247.21,124.42 L247.57,126.94 L247.92,129.50 L248.28,132.10 L248.64,134.74 L248.99,137.43 L249.35,140.15 L249.70,142.92 L250.06,145.74 L250.42,148.59 L250.77,151.49 L251.13,154.44 L251.48,157.43 L251.84,160.47 L252.19,163.56 L252.55,166.69 L252.91,169.88 L253.26,173.11 L253.62,176.39 L253.97,179.72 L254.33,183.10 L254.69,186.54 L255.04,190.03 L255.40,193.57 L255.75,197.16 L256.11,200.81 L256.46,204.52 L256.82,208.28 L257.18,212.10 L257.53,215.98 L257.89,219.92 L258.24,223.92 L258.60,227.98 L258.95,232.10 L259.31,236.28" stroke="#ff0000"/>
</g>
<g><rect x="54.70" y="201.30" width="83.80" height="16.80" rx="1.5" fill="#fff" stroke="#c4c4c4" stroke-width="0.9"/><text x="56.80" y="214.20" class="an" fill="#1f3fe6">[Li(G4)][TFSA]</text><rect x="145.90" y="152.80" width="106.40" height="16.30" rx="1.5" fill="#fff" stroke="#c4c4c4" stroke-width="0.9"/><text x="147.40" y="165.10" class="an" fill="#ff0000">[Li(G1)(G2)][TFSA]</text><rect x="170.30" y="70.10" width="87.05" height="19.20" rx="1.5" fill="#fff" stroke="#c4c4c4" stroke-width="0.9"/><text x="171.80" y="83.30" class="an" fill="#ff6c0a">[Li(SL)<tspan dy="2.4" font-size="7.5">3</tspan><tspan dy="-2.4">][TFSA]</tspan></text></g>
<circle cx="73.00" cy="223.70" r="3.9" fill="#1840f5"/><circle cx="137.60" cy="161.90" r="3.9" fill="#ff0000"/><circle cx="163.80" cy="78.60" r="3.9" fill="#ff6c0a"/>
<g><line x1="53" y1="6.80" x2="72.8" y2="6.80" stroke="#000000" stroke-width="1.7"/><text x="75" y="9.80" class="lg"><tspan class="al">α</tspan> = 0.1</text><line x1="53" y1="18.42" x2="72.8" y2="18.42" stroke="#1840f5" stroke-width="1.7"/><text x="75" y="21.42" class="lg"><tspan class="al">α</tspan> = 0.29</text><line x1="53" y1="30.04" x2="72.8" y2="30.04" stroke="#00b400" stroke-width="1.7"/><text x="75" y="33.04" class="lg"><tspan class="al">α</tspan> = 0.5</text><line x1="53" y1="41.66" x2="72.8" y2="41.66" stroke="#eea500" stroke-width="1.7"/><text x="75" y="44.66" class="lg"><tspan class="al">α</tspan> = 0.7</text><line x1="53" y1="53.28" x2="72.8" y2="53.28" stroke="#4a0a18" stroke-width="1.7"/><text x="75" y="56.28" class="lg"><tspan class="al">α</tspan> = 0.8</text><line x1="53" y1="64.90" x2="72.8" y2="64.90" stroke="#ff6c0a" stroke-width="1.7"/><text x="75" y="67.90" class="lg"><tspan class="al">α</tspan> = 0.92</text><line x1="53" y1="76.52" x2="72.8" y2="76.52" stroke="#ff0000" stroke-width="1.7"/><text x="75" y="79.52" class="lg"><tspan class="al">α</tspan> = 0.93</text><circle cx="62.9" cy="87.00" r="3.85" fill="#1840f5"/><text x="74.7" y="90.00" class="lg">[Li(G4)][TFSA]</text><circle cx="62.9" cy="97.80" r="3.85" fill="#ff0000"/><text x="74.7" y="100.80" class="lg">[Li(G1)(G2)][TFSA]</text><circle cx="62.9" cy="107.80" r="3.85" fill="#ff6c0a"/><text x="74.7" y="110.80" class="lg">[Li(SL)<tspan dy="2.2" font-size="6">3</tspan><tspan dy="-2.2">][TFSA]</tspan></text></g>
<g stroke="#000" stroke-width="1"><line x1="48.90" y1="229.70" x2="52.80" y2="229.70"/><line x1="48.90" y1="207.97" x2="51.10" y2="207.97"/><line x1="48.90" y1="186.24" x2="52.80" y2="186.24"/><line x1="48.90" y1="164.51" x2="51.10" y2="164.51"/><line x1="48.90" y1="142.78" x2="52.80" y2="142.78"/><line x1="48.90" y1="121.05" x2="51.10" y2="121.05"/><line x1="48.90" y1="99.32" x2="52.80" y2="99.32"/><line x1="48.90" y1="77.59" x2="51.10" y2="77.59"/><line x1="48.90" y1="55.86" x2="52.80" y2="55.86"/><line x1="48.90" y1="34.13" x2="51.10" y2="34.13"/><line x1="48.90" y1="12.40" x2="52.80" y2="12.40"/><line x1="48.90" y1="229.70" x2="48.90" y2="225.80"/><line x1="84.04" y1="229.70" x2="84.04" y2="227.50"/><line x1="119.18" y1="229.70" x2="119.18" y2="225.80"/><line x1="154.31" y1="229.70" x2="154.31" y2="227.50"/><line x1="189.45" y1="229.70" x2="189.45" y2="225.80"/><line x1="224.59" y1="229.70" x2="224.59" y2="227.50"/><line x1="259.73" y1="229.70" x2="259.73" y2="225.80"/><line x1="294.86" y1="229.70" x2="294.86" y2="227.50"/><line x1="330.00" y1="229.70" x2="330.00" y2="225.80"/></g>
<rect x="48.9" y="1.5" width="281.1" height="228.2" fill="none" stroke="#3c3c3c" stroke-width="1.4"/>
<g class="tk"><text x="43.5" y="234.40" text-anchor="end">0.0</text><text x="43.5" y="190.94" text-anchor="end">0.2</text><text x="43.5" y="147.48" text-anchor="end">0.4</text><text x="43.5" y="104.02" text-anchor="end">0.6</text><text x="43.5" y="60.56" text-anchor="end">0.8</text><text x="43.5" y="17.10" text-anchor="end">1.0</text><text x="49.10" y="245.8" text-anchor="middle">-1.0</text><text x="119.38" y="245.8" text-anchor="middle">-0.5</text><text x="189.65" y="245.8" text-anchor="middle">0.0</text><text x="259.93" y="245.8" text-anchor="middle">0.5</text><text x="330.20" y="245.8" text-anchor="middle">1.0</text></g>
<text class="ax" x="187" y="265" text-anchor="middle" font-size="21">β</text>
<g transform="translate(18.2,132.3) rotate(-90)">
<text class="ax" x="0" y="0" font-size="23" stroke="#000" stroke-width="0.3" transform="scale(0.95,1)">t</text>
<text x="9.8" y="5.1" font-size="10.2" stroke="#000" stroke-width="0.25">Li</text>
<text x="9.8" y="-9.7" font-size="10.2" letter-spacing="0.7" stroke="#000" stroke-width="0.25">PP</text>
</g>
</svg>
</body></html>
